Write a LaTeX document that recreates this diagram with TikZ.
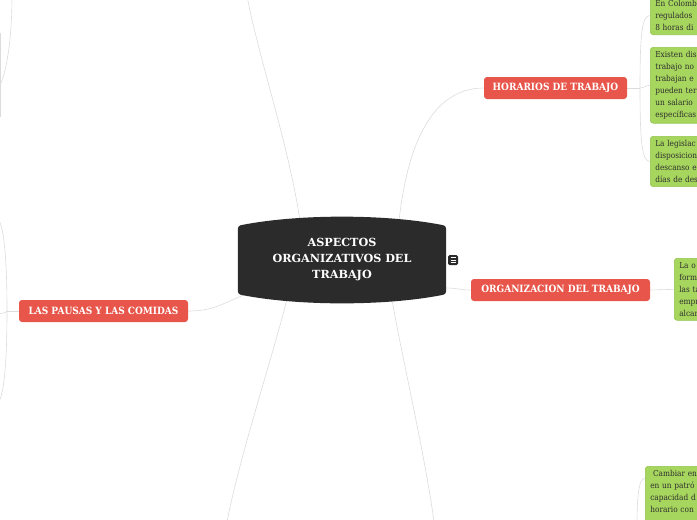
\documentclass[tikz,border=0pt]{standalone}
\usepackage{fontspec}
\usepackage{tikz}
\usetikzlibrary{calc}
\setmainfont{DejaVu Serif Condensed}
\newfontfamily\slabfont{DejaVu Serif}
\definecolor{rootdark}{HTML}{2B2B2B}
\definecolor{topicred}{HTML}{E8554A}
\definecolor{leafgreen}{HTML}{A7D65E}
\definecolor{leafedge}{HTML}{92C44C}
\definecolor{leaftext}{HTML}{2E2E2E}
\definecolor{linkgray}{HTML}{DCDCDC}
\pgfdeclarelayer{links}
\pgfdeclarelayer{back}
\pgfsetlayers{links,back,main}
\tikzstyle{root}=[rectangle,minimum width=208pt,minimum height=78pt,text width=180pt,align=center,text=white,font=\slabfont\bfseries\fontsize{11.2}{16}\selectfont]
\tikzstyle{topic}=[rectangle,rounded corners=3pt,fill=topicred,text=white,minimum height=22pt,inner sep=0pt,font=\bfseries\fontsize{10}{12}\selectfont]
\tikzstyle{leaf}=[rectangle,rounded corners=3pt,fill=leafgreen,draw=leafedge,line width=0.6pt,text=leaftext,text width=70pt,align=left,inner xsep=5pt,inner ysep=4pt,font=\fontsize{8.2}{12}\selectfont]
\tikzstyle{link}=[draw=linkgray,line width=0.6pt]
\tikzstyle{noteicon}=[rectangle,rounded corners=1.5pt,fill=rootdark,minimum size=10pt,inner sep=0pt]

\begin{document}
\begin{tikzpicture}[x=1pt,y=-1pt]
    \useasboundingbox (0,0) rectangle (697,520);
    \node[root] (root) at (342,260) {ASPECTOS\\ORGANIZATIVOS DEL\\TRABAJO};
    \node[noteicon] (note) at (453,260) {};
    \foreach \dy in {-2.5,0,2.5}
        \draw[white,line width=0.8pt] ($(note.center)+(-2.5,\dy)$) -- +(5,0);
    \node[topic,minimum width=143pt] (hor) at (555.5,88) {HORARIOS DE TRABAJO};
    \node[topic,minimum width=179pt] (org) at (560.5,290) {ORGANIZACION DEL TRABAJO};
    \node[topic,minimum width=169pt] (pau) at (103.5,311) {LAS PAUSAS Y LAS COMIDAS};
    \node[leaf,anchor=south west] (g1) at (650,35) {En Colomb\\regulados\\8 horas di};
    \node[leaf,anchor=north west] (g2) at (650,47) {Existen dis\\trabajo no\\trabajan e\\pueden ter\\un salario\\específicas};
    \node[leaf,anchor=north west] (g3) at (650,136) {La legislac\\disposicion\\descanso e\\días de des};
    \node[leaf,anchor=north west] (g4) at (674,258) {La o\\form\\las ta\\empr\\alcan};
    \node[leaf,anchor=north west] (g5) at (645,466) {\ Cambiar en\\en un patró\\capacidad d\\horario con\\\strut};
    % free ends of branches that leave the picture
    \coordinate (hb) at (640,88);
    \coordinate (pb) at (7,311);
    \coordinate (up) at (246,-10);
    \coordinate (downl) at (224,540);
    \coordinate (downr) at (436,540);
    \coordinate (pu) at (-4,218);
    \coordinate (pd) at (-4,404);
    \coordinate (pm) at (-4,314);
    \coordinate (tl) at (12,-5);
    \coordinate (tlb) at (-3,88);
    \coordinate (la) at (0.5,33);
    \coordinate (lb) at (0.5,117);
    \coordinate (g5c) at (637,530);
    \begin{pgfonlayer}{back}
        \fill[rootdark,rounded corners=3pt] ($(root.north west)+(0,5)$) .. controls ($(root.north west)+(60,-7)$) and ($(root.north east)+(-60,-7)$) .. ($(root.north east)+(0,5)$)
            -- ($(root.south east)+(0,-5)$) .. controls ($(root.south east)+(-60,7)$) and ($(root.south west)+(60,7)$) .. ($(root.south west)+(0,-5)$) -- cycle;
    \end{pgfonlayer}
    \begin{pgfonlayer}{links}
        \draw[link] ($(root.north)+(57,0)$) .. controls +(10,-90) and +(-45,0) .. (hor.west);
        \draw[link] ($(root.north)+(-42,0)$) .. controls +(-12,-80) and +(10,60) .. (up);
        \draw[link] ($(root.south)+(-55,0)$) .. controls +(-15,60) and +(8,-60) .. (downl);
        \draw[link] ($(root.south)+(50,0)$) .. controls +(8,50) and +(-5,-60) .. (downr);
        \draw[link] ($(root.east)+(0,28)$) .. controls +(12,0) and +(-12,0) .. (org.west);
        \draw[link] ($(root.south west)+(8,-5)$) .. controls +(-25,10) and +(25,0) .. (pau.east);
        \draw[link] (hor.east) -- (hb);
        \draw[link] (hb) .. controls +(0,-55) and +(-8,0) .. (g1.west);
        \draw[link] (hb) .. controls +(4,0) and +(-4,0) .. (g2.west);
        \draw[link] (hb) .. controls +(0,55) and +(-8,0) .. (g3.west);
        \draw[link] (org.east) -- (g4.west);
        \draw[link] (pau.west) -- (pb);
        \draw[link] (pb) .. controls +(0,-80) and +(4,0) .. (pu);
        \draw[link] (pb) .. controls +(0,80) and +(4,0) .. (pd);
        \draw[link] (pb) .. controls +(0,2) and +(3,0) .. (pm);
        \draw[link] (tl) .. controls +(0,60) and +(5,0) .. (tlb);
        \draw[link] (la) -- (lb);
        \draw[link] (g5c) .. controls +(0,-20) and +(-8,0) .. ($(g5.north west)+(0,12)$);
    \end{pgfonlayer}
\end{tikzpicture}
\end{document}
